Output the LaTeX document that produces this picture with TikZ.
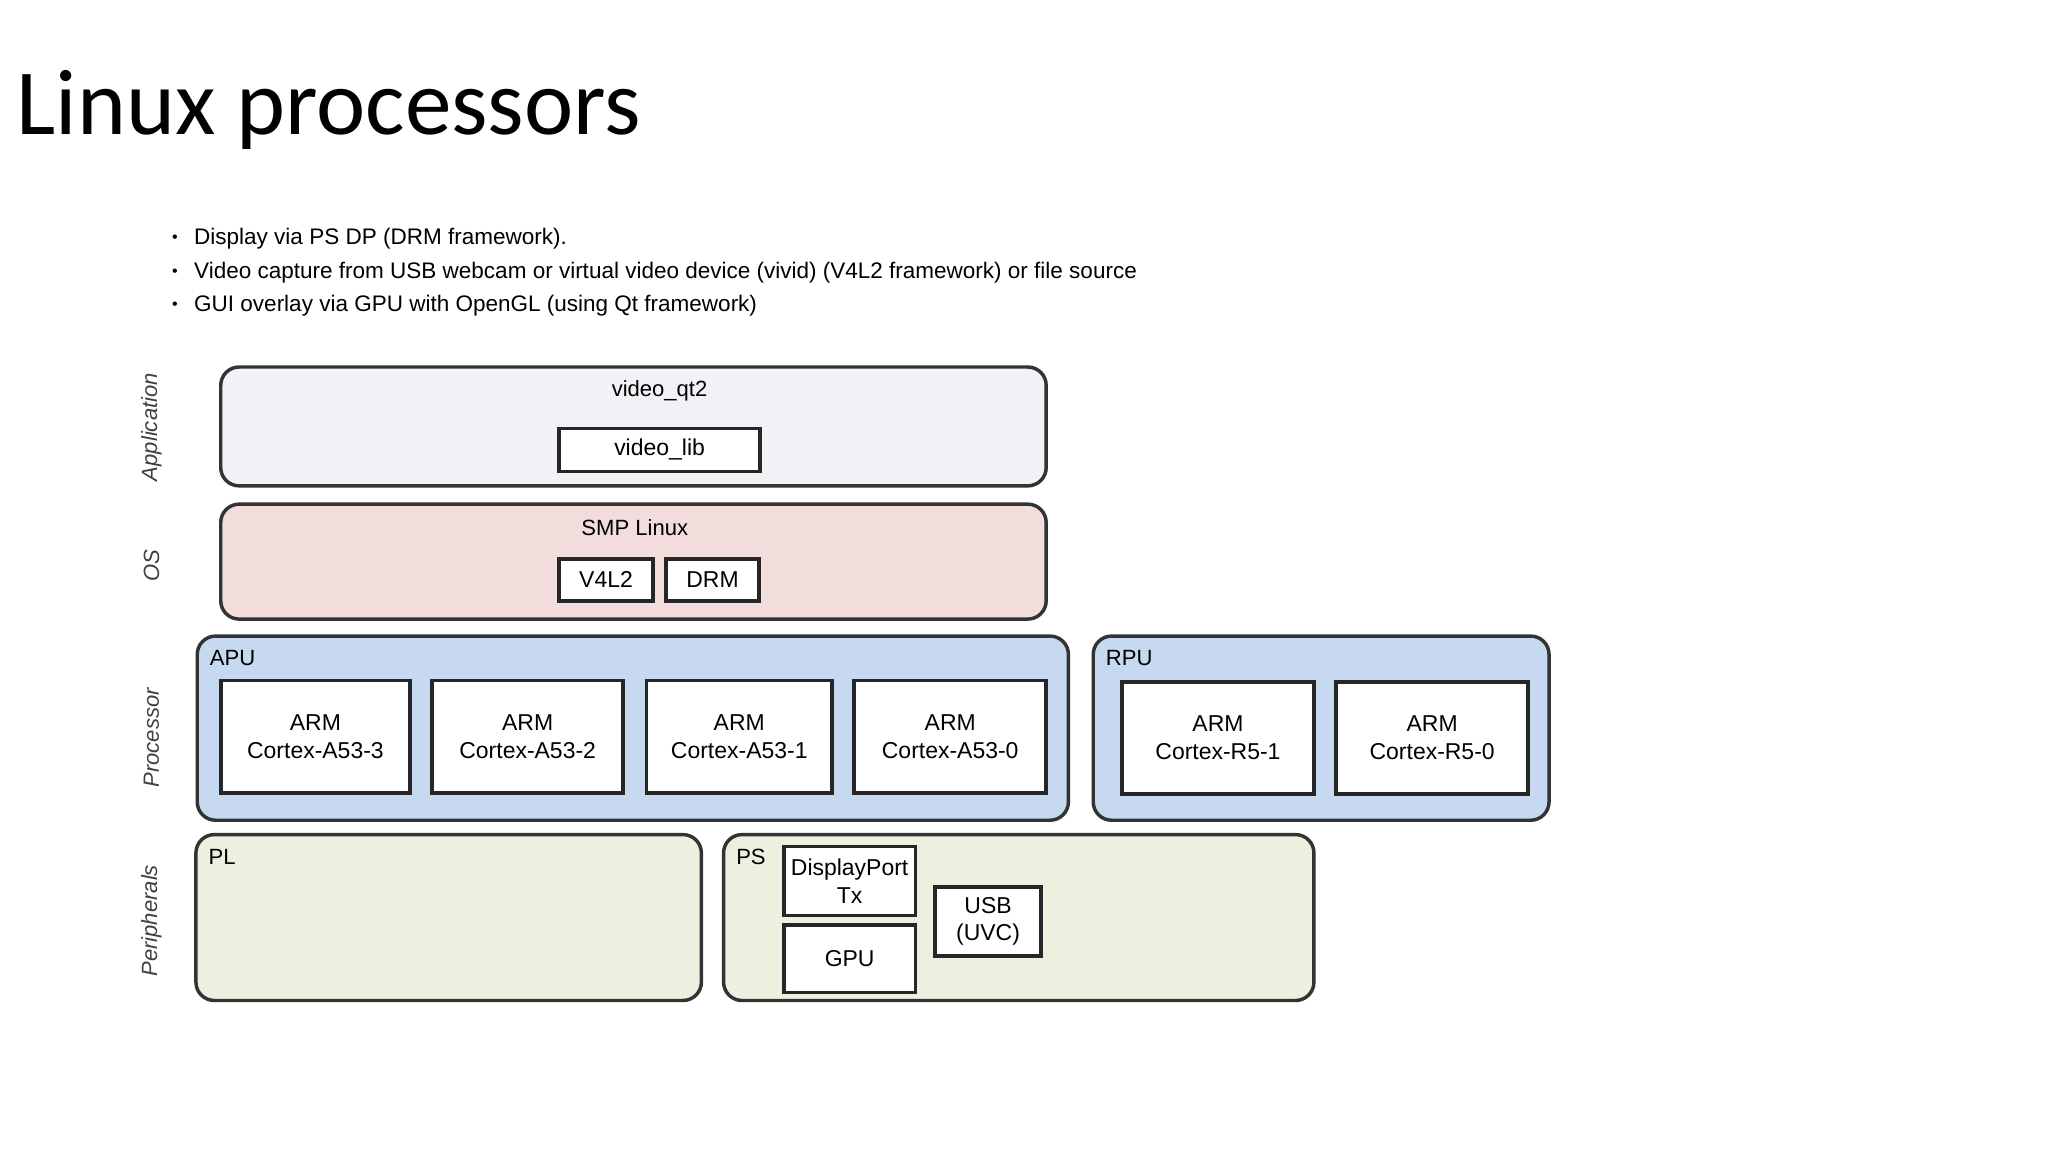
\documentclass[tikz,border=0pt]{standalone}
\usepackage{fontspec}
\setmainfont{Liberation Sans}
\newfontfamily\titlefont{Carlito}
\begin{document}
\begin{tikzpicture}[x=0.01cm,y=-0.01cm,
  lay/.style={draw=black!80,line width=0.75pt,rounded corners=4pt},
  blk/.style={draw=black!85,line width=0.8pt,fill=white,inner sep=0pt,font=\fontsize{5}{6}\selectfont,align=center},
  side/.style={rotate=90,font=\fontsize{4.8}{6}\selectfont\itshape,text=black!75},
  lbl/.style={font=\fontsize{4.8}{6}\selectfont,anchor=west,inner sep=0pt},
  bul/.style={font=\fontsize{4.9}{6}\selectfont,anchor=west,inner sep=0pt,text=black}]
\useasboundingbox (0,0) rectangle (1568,882);
\node[anchor=west,inner sep=0pt,font=\titlefont\fontsize{20.3}{24}\selectfont] (title) at (12,84) {Linux processors};
\foreach \y/\t [count=\i] in {183/{Display via PS DP (DRM framework).},209/{Video capture from USB webcam or virtual video device (vivid) (V4L2 framework) or file source},234/{GUI overlay via GPU with OpenGL (using Qt framework)}}{
  \node[bul] (b\i) at (148,\y) {\t};
  \node[bul,font=\fontsize{3.5}{4}\selectfont] (d\i) at (131,\y) {\textbullet};
}
% Application
\draw[lay,fill={rgb,255:red,243;green,241;blue,245}] (169,281) rectangle (801,372);
\node[font=\fontsize{4.8}{6}\selectfont] (qt2) at (505,299) {video\_qt2};
\draw[blk] (428,328) rectangle (582,361) node[midway] (vlib) {video\_lib};
% OS
\draw[lay,fill={rgb,255:red,242;green,220;blue,220}] (169,386) rectangle (801,474);
\node[font=\fontsize{4.8}{6}\selectfont] (smp) at (486,404) {SMP Linux};
\draw[blk] (428,428) rectangle (500,460) node[midway] (v4l2) {V4L2};
\draw[blk] (510,428) rectangle (581,460) node[midway] (drm) {DRM};
% APU
\draw[lay,fill={rgb,255:red,198;green,217;blue,240}] (151,487) rectangle (818,628);
\node[lbl] (apu) at (160,504) {APU};
\draw[blk] (169,521) rectangle (314,607) node[midway] (c3) {ARM\\Cortex-A53-3};
\draw[blk] (331,521) rectangle (477,607) node[midway] (c2) {ARM\\Cortex-A53-2};
\draw[blk] (495,521) rectangle (637,607) node[midway] (c1) {ARM\\Cortex-A53-1};
\draw[blk] (654,521) rectangle (801,607) node[midway] (c0) {ARM\\Cortex-A53-0};
% RPU
\draw[lay,fill={rgb,255:red,198;green,217;blue,240}] (837,487) rectangle (1186,628);
\node[lbl] (rpu) at (846,504) {RPU};
\draw[blk] (859,522) rectangle (1006,608) node[midway] (r1) {ARM\\Cortex-R5-1};
\draw[blk] (1023,522) rectangle (1170,608) node[midway] (r0) {ARM\\Cortex-R5-0};
% PL / PS
\draw[lay,fill={rgb,255:red,235;green,241;blue,222}] (150,639) rectangle (537,766);
\node[lbl] (pl) at (159,656) {PL};
\draw[lay,fill={rgb,255:red,235;green,241;blue,222}] (554,639) rectangle (1006,766);
\node[lbl] (ps) at (563,656) {PS};
\draw[blk] (600,648) rectangle (701,701) node[midway] (dp) {DisplayPort\\Tx};
\draw[blk] (600,708) rectangle (701,760) node[midway] (gpu) {GPU};
\draw[blk] (716,679) rectangle (797,732) node[midway] (usb) {USB\\(UVC)};
% side labels
\node[side] (sa) at (116,327) {Application};
\node[side] (so) at (116,433) {OS};
\node[side] (sp) at (116,565) {Processor};
\node[side] (spe) at (116,705) {Peripherals};
\end{tikzpicture}
\end{document}
